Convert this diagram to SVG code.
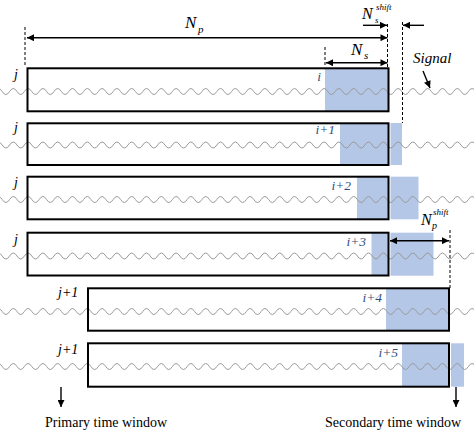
<svg xmlns="http://www.w3.org/2000/svg" xmlns:xlink="http://www.w3.org/1999/xlink" width="474" height="440" viewBox="0 0 474 440">
<style>
.win{fill:none;stroke:#000;stroke-width:2}
.blue{fill:#b4c7e7}
.wave{fill:none;stroke:#9a9a9a;stroke-width:1}
.dash{stroke:#000;stroke-width:1;stroke-dasharray:3,2;fill:none}
.arr{stroke:#000;stroke-width:1.4;fill:none}
.lab{font-family:"Liberation Serif","Times New Roman",serif;font-style:italic;fill:#000}
.ilab{font-family:"Liberation Serif","Times New Roman",serif;font-style:italic;fill:#2f4f80;font-size:13.5px;text-anchor:end}
.cap{font-family:"Liberation Serif","Times New Roman",serif;font-size:14px;fill:#000}
</style>
<defs>
<marker id="ah" viewBox="0 0 10 10" refX="10" refY="5" markerWidth="8" markerHeight="7" markerUnits="userSpaceOnUse" orient="auto-start-reverse">
<path d="M0,0 L10,5 L0,10 z" fill="#000"/>
</marker>
<path id="wave" d="M-5.2,0 q3.7,-6 7.4,0 t7.4,0 t7.4,0 t7.4,0 t7.4,0 t7.4,0 t7.4,0 t7.4,0 t7.4,0 t7.4,0 t7.4,0 t7.4,0 t7.4,0 t7.4,0 t7.4,0 t7.4,0 t7.4,0 t7.4,0 t7.4,0 t7.4,0 t7.4,0 t7.4,0 t7.4,0 t7.4,0 t7.4,0 t7.4,0 t7.4,0 t7.4,0 t7.4,0 t7.4,0 t7.4,0 t7.4,0 t7.4,0 t7.4,0 t7.4,0 t7.4,0 t7.4,0 t7.4,0 t7.4,0 t7.4,0 t7.4,0 t7.4,0 t7.4,0 t7.4,0 t7.4,0 t7.4,0 t7.4,0 t7.4,0 t7.4,0 t7.4,0 t7.4,0 t7.4,0 t7.4,0 t7.4,0 t7.4,0 t7.4,0 t7.4,0 t7.4,0 t7.4,0 t7.4,0 t7.4,0 t7.4,0 t7.4,0 t7.4,0 t7.4,0 t7.4,0"/>
</defs>
<rect width="474" height="440" fill="#fff"/>

<g id="row1">
<rect class="blue" x="325" y="68" width="63.5" height="43.5"/>
<use xlink:href="#wave" class="wave" y="91.5"/>
<rect class="win" x="27.5" y="68.3" width="361" height="43"/>
<text class="lab" x="14" y="79" font-size="14">j</text>
<text class="ilab" x="321" y="81">i</text>
</g>

<g id="row2">
<rect class="blue" x="340" y="123" width="48.5" height="42"/>
<rect class="blue" x="390.5" y="123" width="11.5" height="42"/>
<use xlink:href="#wave" class="wave" y="145"/>
<rect class="win" x="27.5" y="123.3" width="361" height="41.7"/>
<text class="lab" x="14" y="132" font-size="14">j</text>
<text class="ilab" x="335" y="134">i+1</text>
</g>

<g id="row3">
<rect class="blue" x="357" y="176.7" width="31.5" height="42.6"/>
<rect class="blue" x="390.5" y="176.7" width="28" height="42.6"/>
<use xlink:href="#wave" class="wave" y="199.5"/>
<rect class="win" x="27.5" y="176.7" width="361" height="42.6"/>
<text class="lab" x="14" y="187" font-size="14">j</text>
<text class="ilab" x="351" y="190">i+2</text>
</g>

<g id="row4">
<rect class="blue" x="371.5" y="232.7" width="17" height="43"/>
<rect class="blue" x="390.5" y="232.7" width="43" height="43"/>
<use xlink:href="#wave" class="wave" y="256"/>
<rect class="win" x="27.5" y="232.7" width="361" height="42.8"/>
<text class="lab" x="14" y="244" font-size="14">j</text>
<text class="ilab" x="366" y="246">i+3</text>
</g>

<g id="row5">
<rect class="blue" x="386" y="288.3" width="63.5" height="42.4"/>
<use xlink:href="#wave" class="wave" y="311.5"/>
<rect class="win" x="88" y="288.3" width="361" height="42.4"/>
<text class="lab" x="58" y="297" font-size="14">j+1</text>
<text class="ilab" x="382" y="302">i+4</text>
</g>

<g id="row6">
<rect class="blue" x="402" y="343.3" width="47.5" height="43.4"/>
<rect class="blue" x="451" y="343.3" width="13" height="43.4"/>
<use xlink:href="#wave" class="wave" y="366.5"/>
<rect class="win" x="88" y="343.3" width="361" height="43.4"/>
<text class="lab" x="58" y="354" font-size="14">j+1</text>
<text class="ilab" x="398" y="357">i+5</text>
</g>

<g id="connectors">
<line class="dash" x1="25" y1="27" x2="25" y2="67"/>
<line class="dash" x1="325" y1="47" x2="325" y2="67"/>
<line class="dash" x1="387.5" y1="24" x2="387.5" y2="67"/>
<line class="dash" x1="402.5" y1="22" x2="402.5" y2="123"/>
<line class="dash" x1="450" y1="230" x2="450" y2="288"/>
<line class="arr" x1="27" y1="37.7" x2="387.5" y2="37.7" marker-start="url(#ah)" marker-end="url(#ah)"/>
<line class="arr" x1="326" y1="62.7" x2="387.5" y2="62.7" marker-start="url(#ah)" marker-end="url(#ah)"/>
<line class="arr" x1="363" y1="25.3" x2="387" y2="25.3" marker-end="url(#ah)"/>
<line class="arr" x1="424" y1="25.3" x2="403" y2="25.3" marker-end="url(#ah)"/>
<line class="arr" x1="390" y1="240.7" x2="449" y2="240.7" marker-start="url(#ah)" marker-end="url(#ah)"/>
<line class="arr" x1="423" y1="71" x2="430" y2="88" marker-end="url(#ah)"/>
<line class="arr" x1="61" y1="387" x2="61" y2="407" marker-end="url(#ah)"/>
<line class="arr" x1="456" y1="387" x2="456" y2="407" marker-end="url(#ah)"/>
</g>

<g id="labels">
<text class="lab" x="185" y="28" font-size="17">N</text>
<text class="lab" x="198" y="33" font-size="11">p</text>
<text class="lab" x="351" y="55" font-size="17">N</text>
<text class="lab" x="364" y="59" font-size="11">s</text>
<text class="lab" x="362" y="19" font-size="16">N</text>
<text class="lab" x="376" y="10" font-size="9">shift</text>
<text class="lab" x="375" y="23" font-size="9">s</text>
<text class="lab" x="421" y="225" font-size="16">N</text>
<text class="lab" x="433" y="215" font-size="9">shift</text>
<text class="lab" x="432" y="229" font-size="10">p</text>
<text class="lab" x="413" y="63" font-size="15">Signal</text>
<text class="cap" x="45" y="427">Primary time window</text>
<text class="cap" x="325" y="427">Secondary time window</text>
</g>
</svg>
